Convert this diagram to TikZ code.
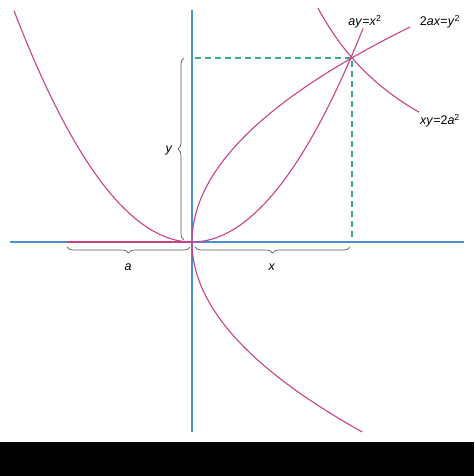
\documentclass[tikz,border=0pt]{standalone}
\usepackage{fontspec}
\setmainfont{Liberation Sans}
\usetikzlibrary{decorations.pathreplacing}
\definecolor{axisblue}{HTML}{4A8FD2}
\definecolor{curvepink}{HTML}{C9438C}
\definecolor{dashgreen}{HTML}{3DAA82}
\definecolor{bracegray}{HTML}{5A5A5A}
\tikzset{
  axisline/.style={axisblue, line width=1.1pt},
  curve/.style={curvepink, line width=1.1pt},
  guide/.style={dashgreen, line width=1.1pt, dash pattern=on 6pt off 4pt},
  bracedeco/.style={bracegray, line width=0.7pt, decorate, decoration={brace, amplitude=6pt}},
  lab/.style={font=\fontsize{12.5}{14}\selectfont, inner sep=1pt},
}
\begin{document}
\begin{tikzpicture}[x=1pt, y=-1pt]
\useasboundingbox (0,0) rectangle (474,476);
\fill[white] (0,0) rectangle (474,476);
\fill[black] (0,442) rectangle (474,476);
% axes
\draw[axisline] (10,242) -- (464,242);
\draw[axisline] (192,10) -- (192,432);
\draw[curve] (67,242) -- (192,242);
% guides
\draw[guide] (195,58) -- (352,58) -- (352,241);
% curves
\draw[curve] plot[domain=-178:171, samples=120, smooth] ({192+\x},{242-73*(\x/100)^2});
\draw[curve] plot[domain=-190:215, samples=120, smooth] ({192+47.17*(\x/100)^2},{242-\x});
\draw[curve] plot[domain=126:227, samples=80, smooth] ({192+\x},{242-294.7/(\x/100)});
% braces
\draw[bracedeco] (184,240) -- (184,58);
\draw[bracedeco] (190,247) -- (67,247);
\draw[bracedeco] (350,247) -- (195,247);
\node[lab] (ly) at (169,150) {\textit{y}};
\node[lab] (la) at (128,267) {\textit{a}};
\node[lab] (lx) at (272,267) {\textit{x}};
% curve labels
\node[lab] (l1) at (365,22) {\textit{ay}=\textit{x}\textsuperscript{2}};
\node[lab] (l2) at (440,22) {2\textit{ax}=\textit{y}\textsuperscript{2}};
\node[lab] (l3) at (440,121) {\textit{xy}=2\textit{a}\textsuperscript{2}};
\end{tikzpicture}
\end{document}
